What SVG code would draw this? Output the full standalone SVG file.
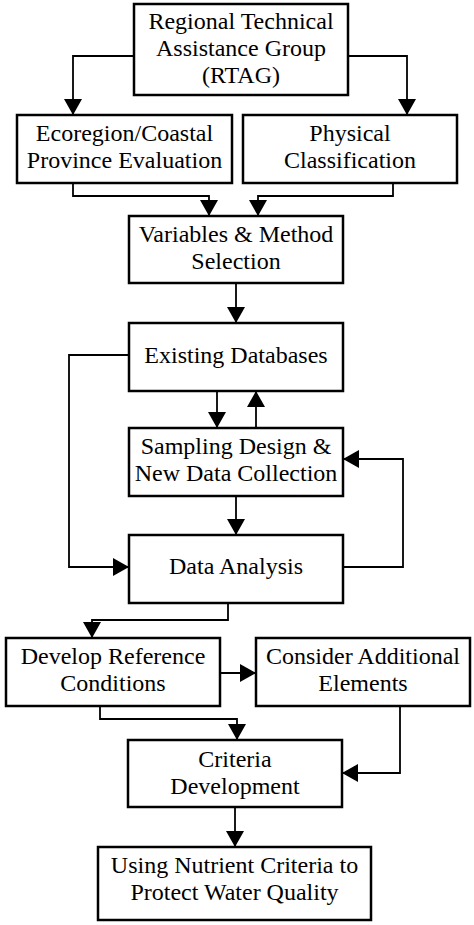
<svg xmlns="http://www.w3.org/2000/svg" width="474" height="925" viewBox="0 0 474 925">
<style>
.box{fill:#fff;stroke:#000;stroke-width:2.5}
.t{font-family:"Liberation Serif","Times New Roman",serif;font-size:24px;text-anchor:middle;fill:#000}
.c{fill:none;stroke:#000;stroke-width:1.8}
</style>
<defs>
<marker id="ah" markerUnits="userSpaceOnUse" markerWidth="16" markerHeight="18" refX="15" refY="9" orient="auto" viewBox="0 0 16 18">
<path d="M0,0 L16,9 L0,18 Z" fill="#000"/>
</marker>
</defs>
<rect width="474" height="925" fill="#fff"/>
<g id="connectors">
<path class="c" d="M134,56 H73 V114" marker-end="url(#ah)"/>
<path class="c" d="M348,56 H407 V114" marker-end="url(#ah)"/>
<path class="c" d="M73,183 V196 H209 V215" marker-end="url(#ah)"/>
<path class="c" d="M393,183 V196 H258 V215" marker-end="url(#ah)"/>
<path class="c" d="M236,283 V322" marker-end="url(#ah)"/>
<path class="c" d="M129,355 H69 V567 H128" marker-end="url(#ah)"/>
<path class="c" d="M217,391 V427" marker-end="url(#ah)"/>
<path class="c" d="M256,428 V392" marker-end="url(#ah)"/>
<path class="c" d="M343,567 H403 V459 H344" marker-end="url(#ah)"/>
<path class="c" d="M236,496 V534" marker-end="url(#ah)"/>
<path class="c" d="M228,603 V620 H92 V637" marker-end="url(#ah)"/>
<path class="c" d="M220,673 H255" marker-end="url(#ah)"/>
<path class="c" d="M100,706 V719 H237 V739" marker-end="url(#ah)"/>
<path class="c" d="M400,706 V773 H343" marker-end="url(#ah)"/>
<path class="c" d="M235,807 V846" marker-end="url(#ah)"/>
</g>
<g id="rtag"><rect class="box" x="134" y="4" width="214" height="91"/>
<text class="t" x="241" y="29">Regional Technical</text><text class="t" x="241" y="56">Assistance Group</text><text class="t" x="241" y="83">(RTAG)</text></g>
<g id="ecoregion"><rect class="box" x="17" y="115" width="215" height="68"/>
<text class="t" x="124.5" y="141">Ecoregion/Coastal</text><text class="t" x="124.5" y="168">Province Evaluation</text></g>
<g id="physical"><rect class="box" x="243" y="115" width="214" height="68"/>
<text class="t" x="350" y="141">Physical</text><text class="t" x="350" y="168">Classification</text></g>
<g id="variables"><rect class="box" x="129" y="216" width="214" height="67"/>
<text class="t" x="236" y="242">Variables &amp; Method</text><text class="t" x="236" y="269">Selection</text></g>
<g id="existing"><rect class="box" x="129" y="323" width="214" height="68"/>
<text class="t" x="236" y="363">Existing Databases</text></g>
<g id="sampling"><rect class="box" x="129" y="428" width="214" height="68"/>
<text class="t" x="236" y="454">Sampling Design &amp;</text><text class="t" x="236" y="481">New Data Collection</text></g>
<g id="analysis"><rect class="box" x="129" y="535" width="214" height="68"/>
<text class="t" x="236" y="574">Data Analysis</text></g>
<g id="develop"><rect class="box" x="6" y="638" width="214" height="68"/>
<text class="t" x="113" y="664">Develop Reference</text><text class="t" x="113" y="691">Conditions</text></g>
<g id="consider"><rect class="box" x="256" y="638" width="214" height="68"/>
<text class="t" x="363" y="664">Consider Additional</text><text class="t" x="363" y="691">Elements</text></g>
<g id="criteria"><rect class="box" x="128" y="740" width="214" height="67"/>
<text class="t" x="235" y="767">Criteria</text><text class="t" x="235" y="794">Development</text></g>
<g id="using"><rect class="box" x="98" y="847" width="273" height="73"/>
<text class="t" x="234.5" y="873">Using Nutrient Criteria to</text><text class="t" x="234.5" y="900">Protect Water Quality</text></g>
</svg>
